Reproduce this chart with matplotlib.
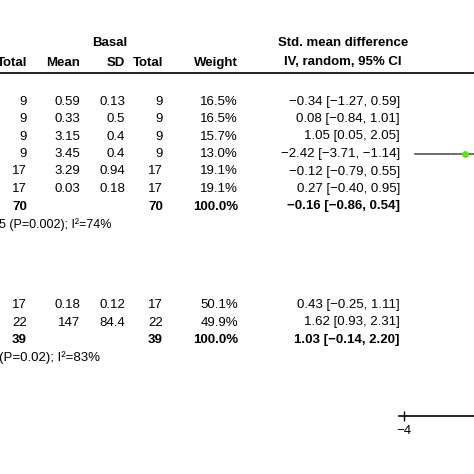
import matplotlib
matplotlib.use("Agg")
from matplotlib import pyplot as plt

plt.rcParams['font.family'] = ['Liberation Sans', 'DejaVu Sans']

# group 1
g1_total_a = [9, 9, 9, 9, 17, 17]
g1_mean = ["0.59", "0.33", "3.15", "3.45", "3.29", "0.03"]
g1_sd = ["0.13", "0.5", "0.4", "0.4", "0.94", "0.18"]
g1_total_b = [9, 9, 9, 9, 17, 17]
g1_weight = [16.5, 16.5, 15.7, 13.0, 19.1, 19.1]
g1_smd = [-0.34, 0.08, 1.05, -2.42, -0.12, 0.27]
g1_lo = [-1.27, -0.84, 0.05, -3.71, -0.79, -0.40]
g1_hi = [0.59, 1.01, 2.05, -1.14, 0.55, 0.95]
g1_sum = (70, 70, -0.16, -0.86, 0.54)
g1_het = "5 (P=0.002); I²=74%"

# group 2
g2_total_a = [17, 22]
g2_mean = ["0.18", "147"]
g2_sd = ["0.12", "84.4"]
g2_total_b = [17, 22]
g2_weight = [50.1, 49.9]
g2_smd = [0.43, 1.62]
g2_lo = [-0.25, 0.93]
g2_hi = [1.11, 2.31]
g2_sum = (39, 39, 1.03, -0.14, 2.20)
g2_het = "(P=0.02); I²=83%"

ticks = [-4]


def fmt(v, nd=2):
    s = f"{v:.{nd}f}"
    return s.replace("-", "\u2212")


def ci_text(m, lo, hi):
    return f"{fmt(m)} [{fmt(lo)}, {fmt(hi)}]"


fig = plt.figure(figsize=(4.74, 4.74), dpi=100)
tab = fig.add_axes([0, 0, 1, 1])
tab.set_xlim(0, 474)
tab.set_ylim(474, 0)
tab.axis('off')

# forest panel: -4 sits at x=404 px, ~38.6 px per unit
ppu = 38.6
x0 = 399
fa = fig.add_axes([x0 / 474, 0, (474 - x0) / 474, 1])
fa.set_xlim(-4 - (404 - x0) / ppu, -4 + (474 - 404) / ppu)
fa.set_ylim(474, 0)
fa.patch.set_visible(False)
for s in ['top', 'right', 'left']:
    fa.spines[s].set_visible(False)
fa.spines['bottom'].set_position(('data', 416))
fa.spines['bottom'].set_linewidth(1.2)
fa.set_yticks([])
fa.set_xticks(ticks)
fa.set_xticklabels([fmt(t, 0) for t in ticks])
fa.tick_params(axis='x', direction='inout', length=7, width=1, labelsize=9.5, pad=3)

fs = 9.5
col_x = [27, 80, 125, 163, 238, 400]

# headers
tab.text(110, 43, "Basal", ha='center', va='center', fontsize=fs, fontweight='bold')
for x, h in zip(col_x[:5], ["Total", "Mean", "SD", "Total", "Weight"]):
    tab.text(x, 63, h, ha='right', va='center', fontsize=fs, fontweight='bold')
tab.text(343, 43, "Std. mean difference", ha='center', va='center', fontsize=fs, fontweight='bold')
tab.text(343, 62, "IV, random, 95% CI", ha='center', va='center', fontsize=fs, fontweight='bold')
tab.plot([0, 474], [73, 73], color='black', lw=1.2)


def draw_group(y0, ta, mean, sd, tb, w, smd, lo, hi, summ, het, het_x, het_fs, step=17.5):
    for i in range(len(ta)):
        y = y0 + i * step
        vals = [str(ta[i]), mean[i], sd[i], str(tb[i]), f"{w[i]:.1f}%", ci_text(smd[i], lo[i], hi[i])]
        for x, v in zip(col_x, vals):
            tab.text(x, y, v, ha='right', va='center', fontsize=fs)
        fa.plot([lo[i], hi[i]], [y, y], color='#555555', lw=1.2, clip_on=True)
        fa.plot(smd[i], y, 'o', color='#66dd22', ms=4, mec='#66dd22')
    y = y0 + len(ta) * step
    tab.text(col_x[0], y, str(summ[0]), ha='right', va='center', fontsize=fs, fontweight='bold')
    tab.text(col_x[3], y, str(summ[1]), ha='right', va='center', fontsize=fs, fontweight='bold')
    tab.text(col_x[4], y, "100.0%", ha='right', va='center', fontsize=fs, fontweight='bold')
    tab.text(col_x[5], y, ci_text(*summ[2:]), ha='right', va='center', fontsize=fs, fontweight='bold')
    tab.text(het_x, y + 18, het, ha='right', va='center', fontsize=het_fs)


draw_group(101.5, g1_total_a, g1_mean, g1_sd, g1_total_b, g1_weight, g1_smd, g1_lo, g1_hi, g1_sum, g1_het, 112, 9)
draw_group(305, g2_total_a, g2_mean, g2_sd, g2_total_b, g2_weight, g2_smd, g2_lo, g2_hi, g2_sum, g2_het, 100, fs)

fig.savefig("out.png", dpi=100, facecolor='white')
